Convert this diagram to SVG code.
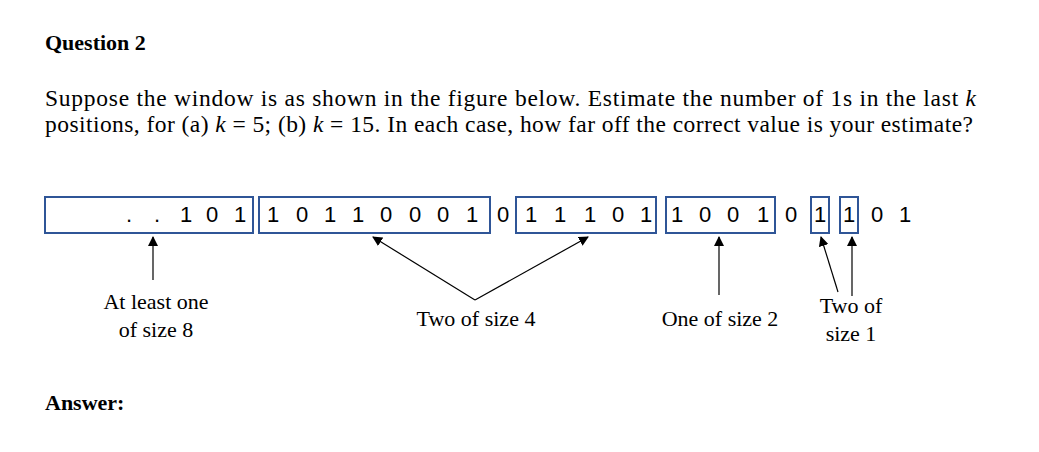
<svg xmlns="http://www.w3.org/2000/svg" width="1039" height="452" viewBox="0 0 1039 452">
<style>
.t{font-family:"Liberation Serif",serif;font-size:22px;fill:#000}
.p{font-size:23.5px}
.b{font-weight:bold}
.m{font-family:"Liberation Sans",sans-serif;font-size:22px;text-anchor:middle;fill:#000}
.c{text-anchor:middle}
.box{fill:none;stroke:#2f5597;stroke-width:2}
.ln{stroke:#000;stroke-width:1.2;fill:none;marker-end:url(#ah)}
</style>
<defs><marker id="ah" viewBox="0 0 10 10" refX="9" refY="5" markerWidth="10" markerHeight="10" markerUnits="userSpaceOnUse" orient="auto"><path d="M0,0L10,5L0,10z" fill="#000"/></marker></defs>
<rect width="1039" height="452" fill="#fff"/>
<text class="t b" x="45" y="50">Question 2</text>
<text class="t p" x="45" y="106" textLength="931" lengthAdjust="spacing">Suppose the window is as shown in the figure below. Estimate the number of 1s in the last <tspan font-style="italic">k</tspan></text>
<text class="t p" x="45" y="132" textLength="928" lengthAdjust="spacing">positions, for (a) <tspan font-style="italic">k</tspan> = 5; (b) <tspan font-style="italic">k</tspan> = 15. In each case, how far off the correct value is your estimate?</text>
<g id="boxes">
<rect class="box" x="45" y="197" width="208" height="36"/>
<rect class="box" x="259" y="197" width="231" height="36"/>
<rect class="box" x="516" y="197" width="140" height="36"/>
<rect class="box" x="666" y="197" width="109" height="36"/>
<rect class="box" x="811" y="197" width="18" height="36"/>
<rect class="box" x="840" y="197" width="18" height="36"/>
</g>
<g id="bits">
<text class="m" y="222"><tspan x="129">.</tspan><tspan x="157">.</tspan><tspan x="186">1</tspan><tspan x="212">0</tspan><tspan x="240">1</tspan><tspan x="273">1</tspan><tspan x="302">0</tspan><tspan x="330">1</tspan><tspan x="358">1</tspan><tspan x="386">0</tspan><tspan x="415">0</tspan><tspan x="443">0</tspan><tspan x="472">1</tspan><tspan x="503">0</tspan><tspan x="531">1</tspan><tspan x="560">1</tspan><tspan x="590">1</tspan><tspan x="618">0</tspan><tspan x="646">1</tspan><tspan x="677">1</tspan><tspan x="705">0</tspan><tspan x="733">0</tspan><tspan x="763">1</tspan><tspan x="791">0</tspan><tspan x="820">1</tspan><tspan x="849">1</tspan><tspan x="877">0</tspan><tspan x="905">1</tspan></text>
</g>
<g id="connectors">
<line class="ln" x1="153" y1="280" x2="153" y2="237"/>
<line class="ln" x1="475" y1="300" x2="373" y2="237"/>
<line class="ln" x1="475" y1="300" x2="588" y2="237"/>
<line class="ln" x1="719" y1="295" x2="719" y2="237"/>
<line class="ln" x1="838" y1="292" x2="821" y2="237"/>
<line class="ln" x1="852" y1="296" x2="852" y2="237"/>
</g>
<g id="labels">
<text class="t c" x="156" y="309">At least one</text>
<text class="t c" x="156" y="337">of size 8</text>
<text class="t c" x="476" y="326">Two of size 4</text>
<text class="t c" x="720" y="326">One of size 2</text>
<text class="t c" x="851" y="313">Two of</text>
<text class="t c" x="851" y="341">size 1</text>
</g>
<text class="t b" x="45" y="410">Answer:</text>
</svg>
